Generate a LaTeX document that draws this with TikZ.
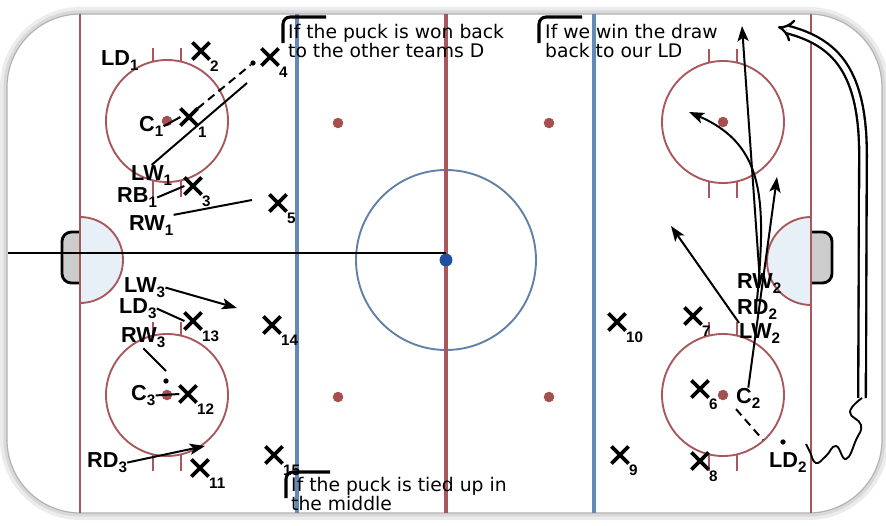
\documentclass[tikz,border=0pt]{standalone}
\usepackage{fontspec}
\setmainfont{Liberation Sans}
\newfontfamily\notefont{DejaVu Sans}
\usepackage{tikz}
\usetikzlibrary{shapes.misc}
\usetikzlibrary{arrows.meta}
\usetikzlibrary{calc}

\definecolor{rinkred}{RGB}{168,88,92}
\definecolor{rinkblue}{RGB}{98,138,184}
\definecolor{cblue}{RGB}{96,128,168}
\definecolor{dotred}{RGB}{165,80,80}
\definecolor{creasefill}{RGB}{232,240,247}
\definecolor{centerdot}{RGB}{30,80,160}

\tikzset{
	redline/.style={draw=rinkred, line width=1.6pt},
	blueline/.style={draw=rinkblue, line width=2.6pt},
	xm/.style={cross out, draw=black, line width=3.2pt, minimum size=11.5pt, inner sep=0pt},
	num/.style={font=\fontsize{13}{13}\selectfont\bfseries, inner sep=0pt, anchor=west},
	pl/.style={font=\fontsize{18.5}{18.5}\selectfont\bfseries, inner sep=0pt, anchor=base west},
	play/.style={black, line width=1.7pt},
	mv/.style={play, -{Stealth[length=13pt, width=9.5pt, inset=3pt]}},
	dsh/.style={play, dash pattern=on 7pt off 4.5pt},
	note/.style={font=\notefont\fontsize{16}{16.2}\selectfont, align=left, anchor=north west, inner sep=0pt},
	callout/.style={black, line width=2.6pt, rounded corners=6pt},
	fdot/.style={circle, fill=dotred, minimum size=9pt, inner sep=0pt},
	pdot/.style={circle, fill=black, minimum size=4.5pt, inner sep=0pt}
}

% 球员名字 (带下标)
\newcommand{\pname}[4]{\node[pl] (#1) at (#2) {#3\raisebox{-5pt}{\fontsize{13}{13}\selectfont #4}};}
% 对方球员 X 和编号
\newcommand{\xmk}[2]{\node[xm] (x#1) at (#2) {}; \node[num] (n#1) at ($(x#1)+(9,15)$) {#1};}

\begin{document}
\begin{tikzpicture}[x=0.03cm, y=-0.03cm]
	
	\useasboundingbox (0,0) rectangle (886,525);
	
	% 绘制冰场外框
	\draw[gray!15, line width=12pt, rounded corners=2.2cm] (7,14) rectangle (882,513);
	\draw[gray!30, line width=6pt, rounded corners=2.2cm] (7,14) rectangle (882,513);
	\draw[gray!60, line width=1pt, fill=white, rounded corners=2.2cm] (7,14) rectangle (882,513);
	
	% 球门区
	\draw[redline, fill=creasefill] (80,217) arc[start angle=-90, end angle=90, radius=43] -- cycle;
	\draw[redline, fill=creasefill] (811,217) arc[start angle=-90, end angle=-270, radius=44] -- cycle;
	
	% 球门
	\draw[black, line width=2.4pt, fill=gray!40, rounded corners=8pt] (80,232) -| (62,283) -- (80,283);
	\draw[black, line width=2.4pt, fill=gray!40, rounded corners=8pt] (811,232) -| (832,283) -- (811,283);
	
	% 球门线, 蓝线
	\draw[redline] (80,14) -- (80,513);
	\draw[redline] (811,14) -- (811,513);
	\draw[blueline] (297,14) -- (297,513);
	\draw[blueline] (594,14) -- (594,513);
	
	% 中圈和中线
	\draw[draw=cblue, line width=1.6pt] (446,260) circle [radius=90];
	\draw[draw=rinkred, line width=3.5pt] (446,14) -- (446,513);
	
	% 争球圈
	\foreach \cx/\cy in {167/121, 167/395, 723/122, 723/395} {
		\draw[redline] (\cx,\cy) circle [radius=61];
		\foreach \dx in {-14,14} {
			\draw[redline] (\cx+\dx,\cy-59) -- ++(0,-14);
			\draw[redline] (\cx+\dx,\cy+59) -- ++(0,17);
		}
		\node[fdot] (fo-\cx-\cy) at (\cx,\cy) {};
	}
	
	% 中区争球点
	\foreach \cx/\cy in {338/123, 549/123, 338/397, 549/397}
		\node[fdot] (nz-\cx-\cy) at (\cx,\cy) {};
	
	% 中点和横线
	\coordinate (lft) at (8,253);
	\coordinate (cc) at (446,253);
	\draw[black, line width=1.6pt] (lft) -- (cc);
	\node[circle, fill=centerdot, minimum size=11pt, inner sep=0pt] (cdot) at (446,260) {};
	
	% 对方球员
	\xmk{1}{189,117}
	\xmk{2}{201,51}
	\xmk{3}{193,186}
	\xmk{4}{270,57}
	\xmk{5}{278,203}
	\xmk{13}{193,321}
	\xmk{14}{272,325}
	\xmk{12}{188,394}
	\xmk{11}{200,468}
	\xmk{15}{274,455}
	\xmk{10}{617,322}
	\xmk{7}{693,316}
	\xmk{6}{700,389}
	\xmk{9}{620,455}
	\xmk{8}{700,461}
	
	% 球
	\node[pdot] (p4) at (253,63) {};
	\node[pdot] (p12) at (166,381) {};
	\node[pdot] (pld2) at (783,442) {};
	
	% 左上 (1)
	\pname{ld1}{101,65}{LD}{1}
	\pname{c1}{139,131}{C}{1}
	\pname{lw1}{131,180}{LW}{1}
	\pname{rb1}{117,202}{RB}{1}
	\pname{rw1}{129,230}{RW}{1}
	\coordinate (lw1end) at (247,83);
	\coordinate (rw1end) at (252,200);
	\draw[play] (c1.east) -- (x1.west);
	\draw[dsh] (x1.north east) -- (p4);
	\draw[play] (lw1.north) -- (lw1end);
	\draw[play] (rb1.east) -- (x3.west);
	\draw[play] (rw1.north east) -- (rw1end);
	
	% 左下 (3)
	\pname{lw3}{124,292}{LW}{3}
	\pname{ld3}{119,313}{LD}{3}
	\pname{rw3}{121,342}{RW}{3}
	\pname{c3}{131,400}{C}{3}
	\pname{rd3}{87,467}{RD}{3}
	\coordinate (lw3end) at (237,308);
	\coordinate (rd3end) at (205,446);
	\draw[mv] (lw3.east) -- (lw3end);
	\draw[play] (ld3.east) -- (x13.west);
	\draw[play] (rw3.south) -- ($(p12)+(0,-10)$);
	\draw[play] (c3.east) -- (x12.west);
	\draw[mv] (rd3.east) -- (rd3end);
	
	% 右边 (2)
	\pname{rw2}{737,288}{RW}{2}
	\pname{rd2}{737,314}{RD}{2}
	\pname{lw2}{739,338}{LW}{2}
	\pname{c2}{736,403}{C}{2}
	\pname{ld2}{769,467}{LD}{2}
	\coordinate (t1) at (742,26);
	\coordinate (t2) at (689,112);
	\coordinate (t3) at (777,177);
	\coordinate (t4) at (671,226);
	\coordinate (d2) at (763,440);
	\draw[mv] (rw2.north) -- (t1);
	\draw[mv] (rd2.north) .. controls (766,200) and (765,145) .. (t2);
	\draw[mv] (c2.north) -- (t3);
	\draw[mv] (lw2.north west) -- (t4);
	\draw[dsh] (c2.south west) -- (d2);
	
	% 空心大箭头和波浪线
	\coordinate (hb) at (862,398);
	\coordinate (ht) at (778,27);
	\coordinate (wv) at (806,444);
	\draw[black, line width=2pt, double=white, double distance=4.5pt, -{Implies[scale=1.4]}] (hb) -- (863,160) .. controls (864,70) and (835,42) .. (ht);
	\draw[play, line width=1.6pt] plot[smooth, tension=0.8] coordinates {(hb) (850,412) (861,425) (856,440) (846,459) (836,446) (826,456) (816,463) (810,452) (wv)};
	
	% 说明文字
	\draw[callout] (283,43) |- (326,17);
	\draw[callout] (539,43) |- (582,17);
	\draw[callout] (286,498) |- (330,472);
	\node[note] (note1) at (288,24) {If the puck is won back\\to the other teams D};
	\node[note] (note2) at (545,24) {If we win the draw\\back to our LD};
	\node[note] (note3) at (291,477) {If the puck is tied up in\\the middle};
	
\end{tikzpicture}
\end{document}
